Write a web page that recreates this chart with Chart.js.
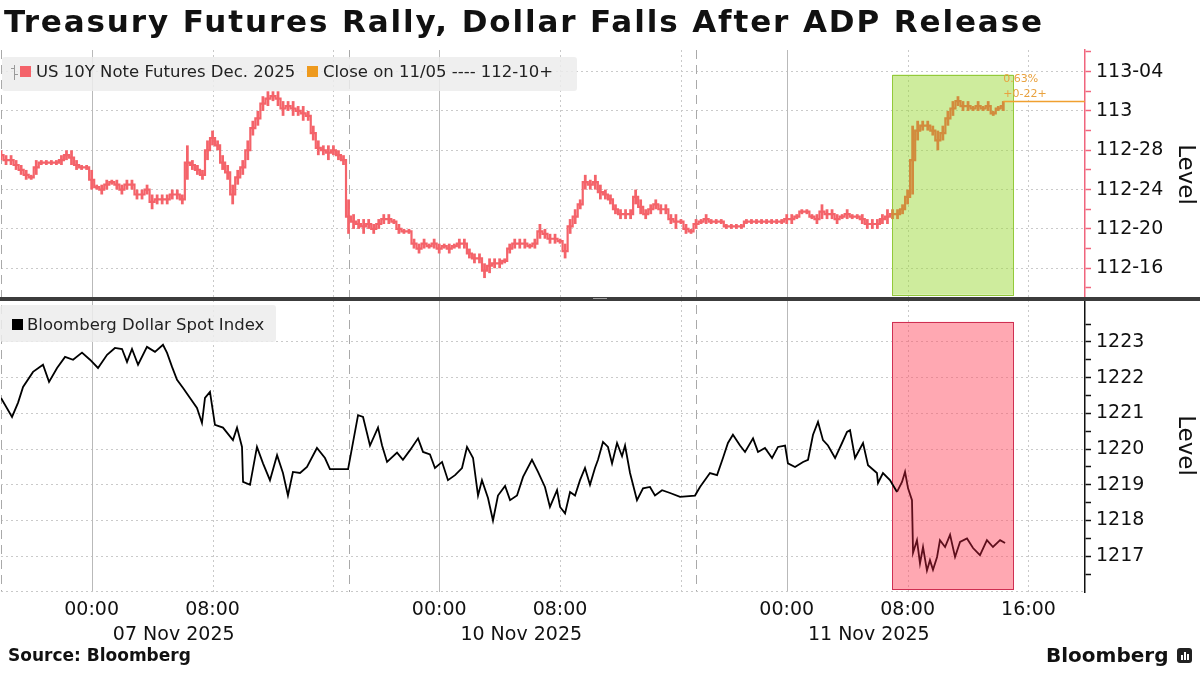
<!DOCTYPE html>
<html>
<head>
<meta charset="utf-8">
<script src="https://cdn.jsdelivr.net/npm/chart.js@4.4.1/dist/chart.umd.min.js"></script>
<style>
  body { margin: 0; background: #fff; }
  #wrap { position: relative; width: 1200px; height: 675px; overflow: hidden; background: #fff;
          font-family: "DejaVu Sans", sans-serif; color: #111; }
  #c { position: absolute; left: 0; top: 0; }
  #title { position: absolute; left: 4px; top: 6px; font-size: 31px; font-weight: bold; line-height: 1; white-space: nowrap; }
  .legend { position: absolute; background: rgba(236,236,236,0.85); border-radius: 3px; }
  .legend span { position: absolute; font-size: 16.5px; line-height: 1; white-space: nowrap; color: #222; }
  .sq { position: absolute; width: 11px; height: 11px; }
  #source { position: absolute; left: 8px; top: 647px; font-size: 17px; font-weight: bold; line-height: 1; }
  #logo { position: absolute; left: 1046px; top: 645px; font-size: 20px; font-weight: bold; line-height: 1; }
  #logoIcon { position: absolute; left: 1177px; top: 648px; width: 15px; height: 15px; background: #222; border-radius: 3px; }
  #logoIcon i { position: absolute; bottom: 3px; width: 2px; background: #fff; }
</style>
</head>
<body>
<div id="wrap">
  <canvas id="c" width="1200" height="675"></canvas>
  <div id="title">Treasury Futures Rally, Dollar Falls After ADP Release</div>

  <div class="legend" style="left:2px; top:57px; width:575px; height:34px;">
    <div style="position:absolute; left:12px; top:8px; width:1px; height:15px; background:#999;"></div>
    <div style="position:absolute; left:9px; top:11px; width:3px; height:1px; background:#999;"></div>
    <div style="position:absolute; left:13px; top:17px; width:3px; height:1px; background:#999;"></div>
    <div class="sq" style="left:18px; top:9px; background:#f4636a;"></div>
    <span style="left:34px; top:7px;">US 10Y Note Futures Dec. 2025</span>
    <div class="sq" style="left:305px; top:9px; background:#ee9a1e;"></div>
    <span style="left:321px; top:7px;">Close on 11/05 ---- 112-10+</span>
  </div>

  <div class="legend" style="left:0px; top:305px; width:276px; height:37px;">
    <div class="sq" style="left:12px; top:14px; background:#000;"></div>
    <span style="left:27px; top:12px;">Bloomberg Dollar Spot Index</span>
  </div>

  <div id="source">Source: Bloomberg</div>
  <div id="logo">Bloomberg</div>
  <div id="logoIcon"><i style="left:4px;height:5px"></i><i style="left:7px;height:8px"></i><i style="left:10px;height:6px"></i></div>
</div>

<script>
// fit the headline to the width it has in the original
var titleEl = document.getElementById('title');
var tw = titleEl.getBoundingClientRect().width;
titleEl.style.letterSpacing = ((1038 - tw) / (titleEl.textContent.length - 1)) + 'px';

// ---------- data ----------
// US 10Y Note Futures Dec. 2025, 20-minute buckets from the 18:00 open on 6 Nov
// (session breaks removed). Low / high in 32nds above 112.
var tyBucketHours = 1 / 3;
var tyLow = [
  27, 26.5, 26.5, 26, 25.5, 25, 25, 25.5, 26.5, 26.5,
  26.5, 26.5, 26.5, 27, 26.5, 26, 26, 26, 24, 24,
  23.5, 24, 24.5, 24, 23.5, 24, 24, 23, 23, 23.5,
  22, 22.5, 22.5, 22.5, 23, 23, 22.5, 25, 26, 25.5,
  25, 27, 28.5, 28, 26, 25, 22.5, 24.5, 25.5, 27,
  29.5, 30.5, 32, 32.5, 33, 32.5, 31.5, 32, 31.5, 31.5,
  31, 31, 29, 27.5, 27.5, 27, 27.5, 27, 26.5, 19.5,
  20, 20, 19.5, 20, 19.5, 20, 20.5, 20.5, 20.5, 19.5,
  19.5, 19.5, 18, 17.5, 18, 18, 18, 17.5, 18, 17.5,
  18, 18, 18, 17, 16.5, 16.5, 15, 15.5, 16, 16,
  16.5, 17.5, 18, 18, 18, 18, 18, 19, 19, 18.5,
  18.5, 18.5, 17, 19.5, 20.5, 22, 24, 24, 24, 23,
  23, 22.5, 21.5, 21, 21, 21, 22.5, 21.5, 21, 21.5,
  22, 21.5, 21.5, 20.5, 20, 20.5, 19.5, 19.5, 20, 20.5,
  20.5, 20.5, 20.5, 20.5, 20, 20, 20, 20, 20.5, 20.5,
  20.5, 20.5, 20.5, 20.5, 20.5, 20.5, 20.5, 20.5, 21, 21.5,
  21.5, 21, 20.5, 21, 21, 21, 20.5, 21, 21, 21,
  21, 20.5, 20, 20, 20, 20.5, 20.5, 21, 21, 21.5,
  22.5, 23.5, 29, 30, 30, 29.5, 28, 29, 30.5, 31.5,
  32.5, 32, 32, 32, 32, 32, 32, 31.5, 32, 32
];
var tyHigh = [
  28, 27.5, 27.5, 27, 26.5, 26, 25.5, 27, 27, 27,
  27, 27, 27.5, 28, 28, 27, 26.5, 26.5, 26, 24.5,
  24.5, 25, 25, 25, 24.5, 25, 25, 24, 24, 24.5,
  23.5, 23.5, 23.5, 23.5, 24, 24, 23.5, 28.5, 27, 26.5,
  26, 29, 30, 29, 27.5, 26.5, 24.5, 26, 27, 29,
  31, 32, 33.5, 34, 34, 34, 33, 33, 33, 32.5,
  32.5, 32, 30.5, 29, 28.5, 28.5, 28.5, 28, 27.5, 23,
  21.5, 21, 21, 21, 20.5, 21, 21.5, 21.5, 21, 20.5,
  20, 20, 19, 18.5, 19, 18.5, 19, 18.5, 18.5, 18.5,
  18.5, 19, 19, 18, 17.5, 17.5, 16.5, 17, 17, 17,
  17, 18.5, 19, 19, 19, 18.5, 19, 20.5, 20, 19.5,
  19.5, 19, 18.5, 21, 22, 23, 25.5, 25, 25.5, 24.5,
  24, 23.5, 22.5, 22, 22, 22, 24, 23, 22, 22.5,
  23, 22.5, 22.5, 21.5, 21.5, 21, 20.5, 20, 21, 21,
  21.5, 21, 21, 21, 20.5, 20.5, 20.5, 20.5, 21, 21,
  21, 21, 21, 21, 21, 21, 21.5, 21.5, 21.5, 22,
  22, 21.5, 21.5, 22.5, 22, 22, 21.5, 21.5, 22, 21.5,
  21.5, 21.5, 21, 21, 21, 21.5, 22, 22, 22, 22.5,
  24, 30.5, 31, 31, 31, 30.5, 30, 30.5, 32, 33,
  33.5, 33, 33, 32.5, 33, 32.5, 33, 32, 32.5, 33
];
var tyLast32 = 33;               // last: 113-01
var tyChangeLabel = '+0-22+';
var tyChangePct = '0.63%';

// Bloomberg Dollar Spot Index: hours on the same trading-time axis, and levels
var dxyHours = [
  0, 0.73, 1.13, 1.46, 2.12, 2.78, 3.18, 3.71, 4.24, 4.77,
  5.36, 5.89, 6.42, 7.02, 7.54, 8.01, 8.34, 8.67, 9.07, 9.66,
  10.19, 10.72, 10.99, 11.32, 11.65, 12.05, 12.51, 12.97, 13.3, 13.5,
  13.83, 14.16, 14.69, 15.35, 15.62, 15.95, 16.02, 16.48, 16.94, 17.34,
  17.8, 18.27, 18.66, 18.99, 19.32, 19.79, 20.25, 20.91, 21.44, 21.77,
  22.97, 23.63, 23.96, 24.22, 24.42, 24.95, 25.22, 25.55, 26.21, 26.6,
  27.07, 27.6, 27.93, 28.39, 28.72, 29.19, 29.58, 30.05, 30.51, 30.84,
  31.24, 31.57, 31.83, 32.23, 32.56, 32.89, 33.36, 33.69, 34.15, 34.55,
  35.14, 35.54, 36.0, 36.33, 36.8, 37.0, 37.33, 37.66, 37.99, 38.32,
  38.65, 38.98, 39.31, 39.51, 39.84, 40.17, 40.44, 40.77, 41.1, 41.3,
  41.63, 42.09, 42.49, 42.95, 43.28, 43.75, 44.28, 44.94, 45.93, 46.26,
  46.92, 47.39, 47.78, 48.11, 48.44, 48.91, 49.24, 49.77, 50.1, 50.56,
  51.03, 51.42, 51.89, 52.08, 52.55, 53.08, 53.41, 53.74, 54.07, 54.4,
  54.73, 55.2, 55.66, 55.99, 56.19, 56.52, 57.05, 57.38, 57.97, 58.04,
  58.37, 58.83, 59.3, 59.63, 59.83, 60.03, 60.29, 60.36, 60.62, 60.82,
  61.02, 61.28, 61.48, 61.68, 61.95, 62.14, 62.48, 62.81, 63.14, 63.47,
  63.93, 64.33, 64.79, 65.25, 65.65, 66.12, 66.45
];
var dxyValues = [
  1221.43, 1220.9, 1221.3, 1221.74, 1222.16, 1222.36, 1221.88, 1222.27, 1222.58, 1222.5,
  1222.7, 1222.5, 1222.27, 1222.64, 1222.83, 1222.8, 1222.44, 1222.8, 1222.36, 1222.86,
  1222.72, 1222.92, 1222.69, 1222.3, 1221.94, 1221.71, 1221.43, 1221.15, 1220.73, 1221.43,
  1221.6, 1220.68, 1220.6, 1220.25, 1220.6, 1220.06, 1219.08, 1219.0, 1220.06, 1219.6,
  1219.13, 1219.83, 1219.33, 1218.7, 1219.36, 1219.33, 1219.5, 1220.03, 1219.75, 1219.44,
  1219.44, 1220.95, 1220.9, 1220.45, 1220.1, 1220.6, 1220.1, 1219.64, 1219.9, 1219.7,
  1219.97, 1220.3, 1219.92, 1219.85, 1219.47, 1219.64, 1219.13, 1219.27, 1219.47, 1220.06,
  1219.75, 1218.7, 1219.13, 1218.63, 1218.0, 1218.7, 1218.97, 1218.57, 1218.7, 1219.22,
  1219.7, 1219.36, 1218.94, 1218.38, 1218.85, 1218.38, 1218.2, 1218.8, 1218.7, 1219.13,
  1219.47, 1219.0, 1219.47, 1219.7, 1220.2, 1220.06, 1219.6, 1220.17, 1219.8, 1220.1,
  1219.33, 1218.57, 1218.9, 1218.94, 1218.7, 1218.85, 1218.77, 1218.66, 1218.7, 1218.94,
  1219.33, 1219.27, 1219.75, 1220.17, 1220.4, 1220.1, 1219.92, 1220.3, 1219.92, 1220.03,
  1219.75, 1220.06, 1220.1, 1219.6, 1219.5, 1219.64, 1219.7, 1220.4, 1220.76, 1220.25,
  1220.1, 1219.75, 1220.17, 1220.48, 1220.53, 1219.75, 1220.17, 1219.55, 1219.33, 1219.05,
  1219.33, 1219.13, 1218.8, 1219.08, 1219.36, 1218.9, 1218.57, 1217.1, 1217.45, 1216.8,
  1217.26, 1216.6, 1216.89, 1216.62, 1216.98, 1217.45, 1217.26, 1217.6, 1216.98, 1217.4,
  1217.5, 1217.23, 1217.03, 1217.45, 1217.26, 1217.45, 1217.37
];

// time axis (hours since 18:00 on 6 Nov, weekend and daily breaks removed)
var sessionBreaks = [0, 23, 46];
var gridHours = [6, 14, 22, 29, 37, 45, 52, 60, 68];
var xTickHours = [6, 14, 29, 37, 52, 60, 68];
var xTickLabels = ['00:00', '08:00', '00:00', '08:00', '00:00', '08:00', '16:00'];
var dayStartHours = [6, 29, 52];
var dateLabels = ['07 Nov 2025', '10 Nov 2025', '11 Nov 2025'];

// price axis ticks (32nds above 112) and dollar index ticks
var yTopTicks32 = [16, 20, 24, 28, 32, 36];
var yTopTickLabels = ['112-16', '112-20', '112-24', '112-28', '113', '113-04'];
var yBotTicks = [1217, 1218, 1219, 1220, 1221, 1222, 1223];
var yBotTickLabels = ['1217', '1218', '1219', '1220', '1221', '1222', '1223'];

// highlighted window 07:00-15:00 on 11 Nov
var highlight = { from: 59, to: 67, top32: [13.3, 35.7], bottom: [1216.08, 1223.56] };

function toPrice(p32) { return 112 + p32 / 32; }
function to32(p) { return Math.round((p - 112) * 64) / 2; }

var tyData = tyLow.map(function (lo, i) {
  return { x: i * tyBucketHours, y: [toPrice(lo), toPrice(tyHigh[i])] };
});
// trace through the middle of each bucket's range, joins the range bars
var tyMid = tyLow.map(function (lo, i) {
  return { x: i * tyBucketHours, y: toPrice((lo + tyHigh[i]) / 2) };
});
var dxyData = dxyHours.map(function (h, i) { return { x: h, y: dxyValues[i] }; });

var yTopAll = [];
for (var v = 14; v <= 38; v += 2) yTopAll.push(v);
var yBotAll = [];
for (var b = 1216.5; b <= 1223.5; b += 0.5) yBotAll.push(b);

var pink = '#f0657d';
var salmon = '#f4636a';
var tan = '#d28b3d';
var tickFont = { family: 'DejaVu Sans', size: 19 };

var decor = {
  id: 'decor',
  beforeDatasetsDraw: function (chart) {
    var ctx = chart.ctx, a = chart.chartArea, x = chart.scales.x;
    var yT = chart.scales.yT, yB = chart.scales.yB;
    ctx.save();
    ctx.lineWidth = 1;
    function vline(h, color, dash) {
      var px = Math.round(x.getPixelForValue(h)) + 0.5;
      ctx.beginPath();
      ctx.setLineDash(dash);
      ctx.strokeStyle = color;
      ctx.moveTo(px, a.top);
      ctx.lineTo(px, a.bottom);
      ctx.stroke();
    }
    gridHours.forEach(function (h) {
      if (dayStartHours.indexOf(h) >= 0) vline(h, '#b9b9b9', []);
      else vline(h, '#c9c9c9', [2, 3]);
    });
    sessionBreaks.forEach(function (h) { vline(h, '#a9a9a9', [9, 6]); });

    ctx.setLineDash([2, 3]);
    ctx.strokeStyle = '#c9c9c9';
    ctx.beginPath();
    ctx.moveTo(a.left, a.bottom - 0.5);
    ctx.lineTo(a.right, a.bottom - 0.5);
    ctx.stroke();

    ctx.setLineDash([]);
    var x0 = x.getPixelForValue(highlight.from), x1 = x.getPixelForValue(highlight.to);
    function rect(top, bottom, fill, stroke) {
      ctx.fillStyle = fill;
      ctx.fillRect(x0, top, x1 - x0, bottom - top);
      ctx.strokeStyle = stroke;
      ctx.strokeRect(Math.round(x0) + 0.5, Math.round(top) + 0.5, Math.round(x1 - x0), Math.round(bottom - top));
    }
    rect(yT.getPixelForValue(toPrice(highlight.top32[1])), yT.getPixelForValue(toPrice(highlight.top32[0])),
         'rgba(158,218,60,0.5)', '#93c93a');
    rect(yB.getPixelForValue(highlight.bottom[1]), yB.getPixelForValue(highlight.bottom[0]),
         'rgba(255,82,102,0.5)', '#cf2f52');
    ctx.restore();
  },
  afterDatasetsDraw: function (chart) {
    var ctx = chart.ctx, a = chart.chartArea, x = chart.scales.x, yT = chart.scales.yT;
    var px = x.getPixelForValue((tyLow.length - 1) * tyBucketHours);
    var py = Math.round(yT.getPixelForValue(toPrice(tyLast32))) + 0.5;
    ctx.save();
    ctx.strokeStyle = '#f0a030';
    ctx.lineWidth = 1.5;
    ctx.beginPath();
    ctx.moveTo(px, py);
    ctx.lineTo(a.right, py);
    ctx.stroke();
    ctx.fillStyle = '#e9a23f';
    ctx.font = '11px "DejaVu Sans"';
    ctx.textAlign = 'left';
    ctx.textBaseline = 'middle';
    ctx.fillText(tyChangePct, px, py - 22);
    ctx.fillText(tyChangeLabel, px, py - 7);
    ctx.restore();
  },
  afterDraw: function (chart) {
    var ctx = chart.ctx, a = chart.chartArea, x = chart.scales.x, yT = chart.scales.yT;
    ctx.save();
    var sep = yT.bottom;
    ctx.fillStyle = '#3c3c3c';
    ctx.fillRect(0, sep - 2, chart.width, 4);
    ctx.fillStyle = '#a0a0a0';
    ctx.fillRect(chart.width / 2 - 7, sep - 1, 14, 1);
    ctx.fillStyle = '#111';
    ctx.font = '19px "DejaVu Sans"';
    ctx.textAlign = 'center';
    ctx.textBaseline = 'middle';
    dateLabels.forEach(function (t, i) {
      ctx.fillText(t, x.getPixelForValue(dayStartHours[i] + 5.43), a.bottom + 43);
    });
    ctx.restore();
  }
};

var chart = new Chart(document.getElementById('c'), {
  type: 'bar',
  data: {
    datasets: [{
      type: 'bar',
      label: 'US 10Y Note Futures Dec. 2025',
      data: tyData,
      xAxisID: 'x',
      yAxisID: 'yT',
      backgroundColor: function (c) {
        return (c.raw && c.raw.x >= highlight.from) ? tan : salmon;
      },
      borderWidth: 0,
      barPercentage: 0.55,
      categoryPercentage: 1,
      grouped: false
    }, {
      type: 'line',
      label: 'US 10Y trace',
      data: tyMid,
      xAxisID: 'x',
      yAxisID: 'yT',
      borderColor: salmon,
      borderWidth: 2.2,
      pointRadius: 0,
      stepped: 'middle',
      segment: {
        borderColor: function (c) { return c.p0.parsed.x >= highlight.from ? tan : salmon; }
      }
    }, {
      type: 'line',
      label: 'Bloomberg Dollar Spot Index',
      data: dxyData,
      xAxisID: 'x',
      yAxisID: 'yB',
      borderColor: '#000',
      borderWidth: 1.8,
      pointRadius: 0,
      tension: 0,
      segment: {
        borderColor: function (c) { return c.p0.parsed.x >= highlight.from ? '#5e0f1c' : '#000'; }
      }
    }]
  },
  options: {
    responsive: false,
    animation: false,
    layout: { padding: { top: 50, left: 1, right: 0, bottom: 0 } },
    plugins: { legend: { display: false }, tooltip: { enabled: false } },
    scales: {
      x: {
        type: 'linear', min: 0, max: 71.74, offset: false,
        grid: { display: false, drawTicks: false, offset: false },
        border: { display: false },
        afterBuildTicks: function (s) { s.ticks = xTickHours.map(function (h) { return { value: h }; }); },
        afterFit: function (s) { s.height = 83; },
        ticks: {
          autoSkip: false, maxRotation: 0, padding: 7, color: '#111', font: tickFont,
          callback: function (val, i) { return xTickLabels[i]; }
        }
      },
      yT: {
        type: 'linear', position: 'right', stack: 'panels', stackWeight: 249, offset: false,
        min: toPrice(12.87), max: toPrice(38.2),
        afterBuildTicks: function (s) { s.ticks = yTopAll.map(function (p) { return { value: toPrice(p) }; }); },
        afterFit: function (s) { s.width = 115; },
        grid: {
          color: function (c) { return (c.tick && yTopTicks32.indexOf(to32(c.tick.value)) >= 0) ? '#cacaca' : 'rgba(0,0,0,0)'; },
          tickColor: pink, tickLength: 6, tickWidth: 1.5
        },
        border: { color: pink, width: 1.5, dash: [2, 3] },
        ticks: {
          autoSkip: false, padding: 5, color: '#111', font: tickFont,
          callback: function (val) {
            var k = yTopTicks32.indexOf(to32(val));
            return k >= 0 ? yTopTickLabels[k] : '';
          }
        },
        title: { display: true, text: 'Level', color: '#111', font: { family: 'DejaVu Sans', size: 23 }, padding: { top: 1, bottom: 0 } }
      },
      yB: {
        type: 'linear', position: 'right', stack: 'panels', stackWeight: 293, offset: false,
        min: 1216.0, max: 1224.2,
        afterBuildTicks: function (s) { s.ticks = yBotAll.map(function (p) { return { value: p }; }); },
        afterFit: function (s) { s.width = 115; },
        grid: {
          color: function (c) { return (c.tick && yBotTicks.indexOf(c.tick.value) >= 0) ? '#cacaca' : 'rgba(0,0,0,0)'; },
          tickColor: '#111', tickLength: 6, tickWidth: 1.5
        },
        border: { color: '#111', width: 1.5, dash: [2, 3] },
        ticks: {
          autoSkip: false, padding: 5, color: '#111', font: tickFont,
          callback: function (val) {
            var k = yBotTicks.indexOf(val);
            return k >= 0 ? yBotTickLabels[k] : '';
          }
        },
        title: { display: true, text: 'Level', color: '#111', font: { family: 'DejaVu Sans', size: 23 }, padding: { top: 1, bottom: 0 } }
      }
    }
  },
  plugins: [decor]
});
</script>
</body>
</html>
